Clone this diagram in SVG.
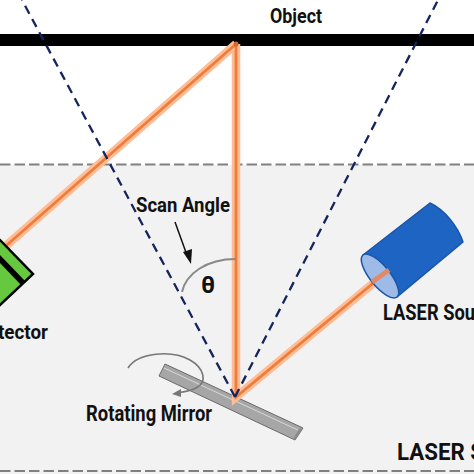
<svg xmlns="http://www.w3.org/2000/svg" width="474" height="474" viewBox="0 0 474 474">
<style>
text{font-family:"Roboto","Liberation Sans",sans-serif;font-weight:700;fill:#111}
.glow{stroke:#ffbd96;stroke-width:8.500;fill:none}
.beam{stroke:#f07c3c;stroke-width:2.800;fill:none}
.scan{stroke:#14245c;stroke-width:2.300;stroke-dasharray:9 6;fill:none}
.curve{stroke:#777;stroke-width:1.600;fill:none}
</style>
<rect width="474" height="474" fill="#fff"/>
<!-- system enclosure -->
<rect x="0" y="165" width="474" height="309" fill="#f2f2f2"/>
<path d="M0 164.500H474M0 471H474" stroke="#808080" stroke-width="1.800" stroke-dasharray="10.500 4" fill="none"/>
<g id="object">
<rect x="0" y="34" width="474" height="12" fill="#000"/>
<text x="270" y="23" font-size="21" textLength="52" lengthAdjust="spacingAndGlyphs">Object</text>
</g>
<g id="rotating-mirror">
<path d="M159 376L165 364L303 428L295 440Z" fill="#a6a6a6" stroke="#6a6a6a" stroke-width="1"/>
<path d="M164 368L300 431" stroke="#d8d8d8" stroke-width="1" fill="none"/>
<path d="M295 440L303 428L299 429L293 439Z" fill="#8a8a8a"/>
<path class="curve" d="M128 368C138 352 172 350 190 360C204 368 208 382 196 388C188 392 182 392 176 393"/>
<path d="M172 394L181 389L181 397Z" fill="#777"/>
<text x="86" y="421" font-size="21.500" textLength="126" lengthAdjust="spacingAndGlyphs">Rotating Mirror</text>
</g>
<g id="connectors">
<g id="beams">
<path class="glow" d="M236 44L0 251M236 44V397L388 271"/>
<path class="beam" d="M236 44L0 251M236 44V397L389 270"/>
</g>
<circle cx="236" cy="44" r="2.500" fill="#d8692e"/>
<path class="scan" d="M235 397L22 0M235 397L438 0"/>
<path d="M182 292C186 274 206 259 236 259" stroke="#888" stroke-width="2" fill="none"/>
<path d="M175 222L188 258" stroke="#111" stroke-width="1.500" fill="none"/>
<path d="M191 264L183 252L192 249Z" fill="#111"/>
</g>
<g id="detector">
<path d="M0 240L33 274L0 305L-10 300V240Z" fill="#66c83e" stroke="#000" stroke-width="2.500"/>
<path d="M-2 257L23 283" stroke="#000" stroke-width="5.500" fill="none"/>
<text x="-2" y="339" font-size="21" textLength="50" lengthAdjust="spacingAndGlyphs">tector</text>
</g>
<g id="laser-source">
<path d="M363 255L430 203C445 210 458 227 463 242L397 297Z" fill="#1e64c2" stroke="#1a56a8" stroke-width="1.500" stroke-linejoin="round"/>
<ellipse cx="380" cy="276" rx="10" ry="27" transform="rotate(-39 380 276)" fill="#9dbbe6" stroke="#1a56a8" stroke-width="1.500"/>
<path d="M372 282L389 270" stroke="#e08a68" stroke-width="5"/>
<text x="383" y="320" font-size="21.500" textLength="92" lengthAdjust="spacingAndGlyphs">LASER Sou</text>
</g>
<text x="136" y="212" font-size="21" textLength="94" lengthAdjust="spacingAndGlyphs">Scan Angle</text>
<text x="208" y="293" font-size="24" text-anchor="middle">θ</text>
<text x="397" y="460" font-size="24" textLength="87" lengthAdjust="spacingAndGlyphs">LASER S</text>
</svg>
